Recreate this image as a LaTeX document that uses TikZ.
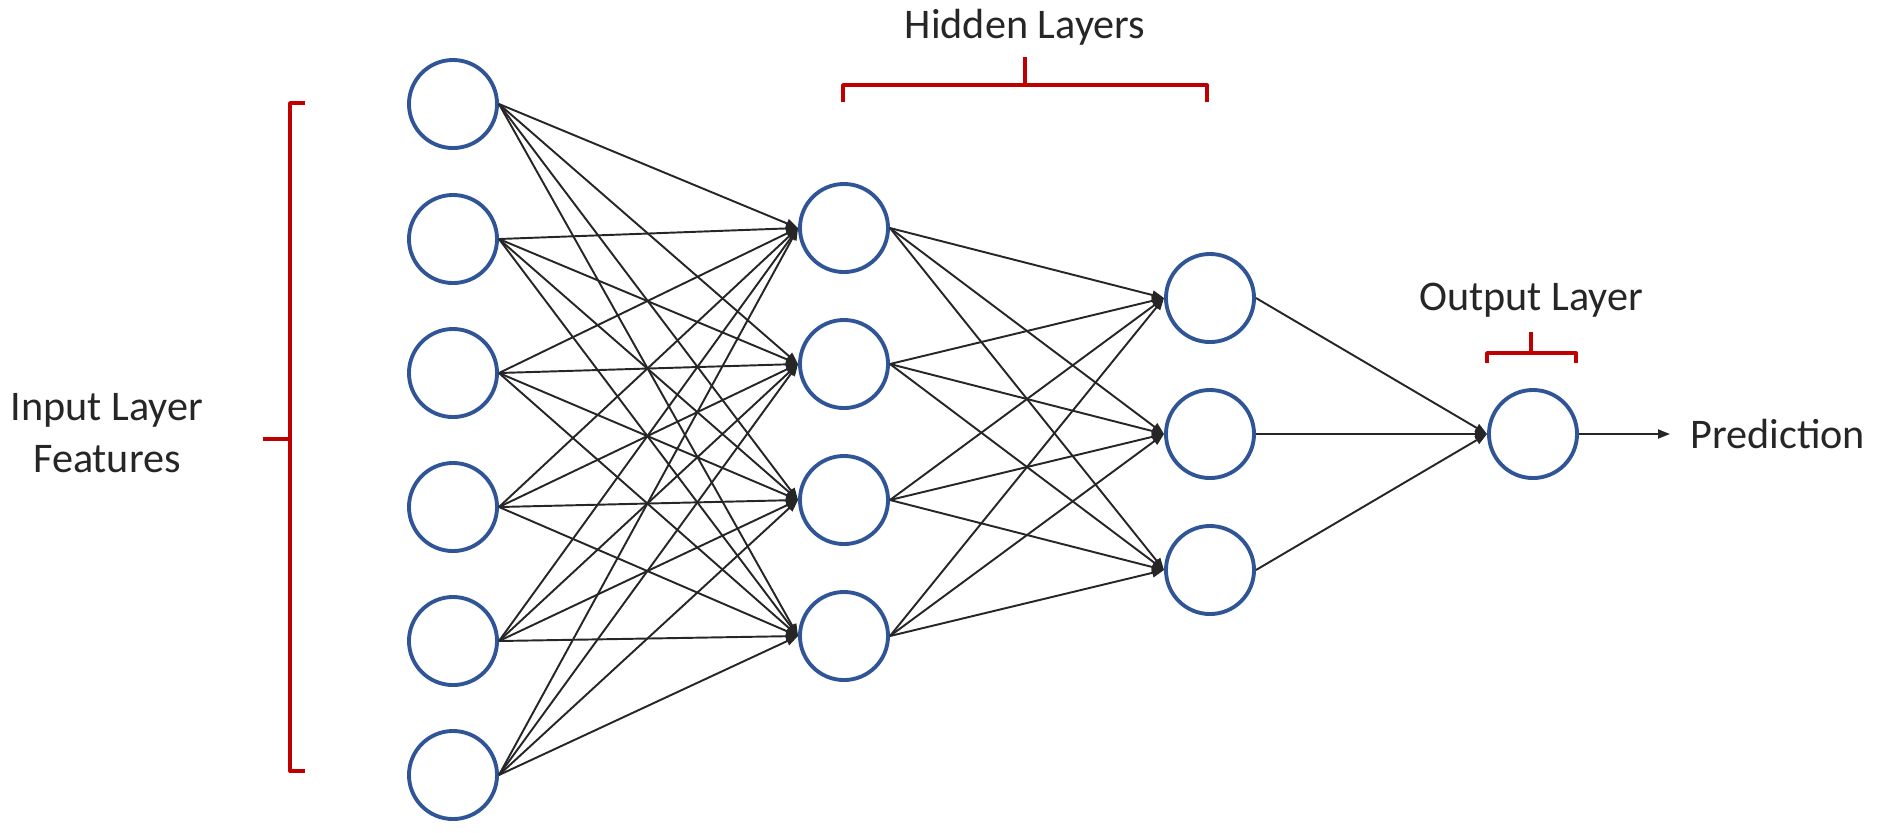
\documentclass[tikz,border=0pt]{standalone}
\usepackage{fontspec}
\setmainfont{Carlito}
\usetikzlibrary{arrows.meta}
\definecolor{nodeblue}{RGB}{47,85,151}
\definecolor{bracketred}{RGB}{192,0,0}
\begin{document}
\begin{tikzpicture}[x=0.01cm, y=-0.01cm]
                \tikzset{neuron/.style={draw=nodeblue, line width=1.1pt, shape=circle, minimum size=0.88cm, inner sep=0pt},
                         link/.style={-{Triangle[length=0.12cm, width=0.09cm]}, line width=0.55pt, black!85},
                         bracket/.style={draw=bracketred, line width=1.1pt, line join=round},
                         layertext/.style={font=\fontsize{12}{14.8}\selectfont, text=black!85}}
                \useasboundingbox (0,0) rectangle (1878,832);
                \foreach \i/\y in {1/104, 2/239, 3/373, 4/507, 5/641, 6/775}
                    \node[neuron] (in\i) at (453, \y) {};
                \foreach \i/\y in {1/228, 2/364, 3/500, 4/636}
                    \node[neuron] (hA\i) at (844, \y) {};
                \foreach \i/\y in {1/298, 2/434, 3/570}
                    \node[neuron] (hB\i) at (1210, \y) {};
                \node[neuron] (out) at (1533, 434) {};
                \node[layertext, anchor=west] (pred) at (1678, 434) {Prediction};
                \foreach \i in {1,...,6}
                    \foreach \j in {1,...,4}
                        \draw[link] (in\i.east) -- (hA\j.west);
                \foreach \i in {1,...,4}
                    \foreach \j in {1,...,3}
                        \draw[link] (hA\i.east) -- (hB\j.west);
                \foreach \j in {1,...,3}
                    \draw[link] (hB\j.east) -- (out.west);
                \draw[link, shorten >=0.08cm] (out.east) -- (pred.west);
                \node[layertext, align=center] (inputlbl) at (107, 433) {Input Layer\\Features};
                \node[layertext, anchor=base] (hiddenlbl) at (1025, 38) {Hidden Layers};
                \node[layertext, anchor=base] (outputlbl) at (1531, 310) {Output Layer};
                \draw[bracket] (305, 103) -- (290, 103) -- (290, 771) -- (305, 771)
                    (290, 439) -- (263, 439);
                \draw[bracket] (843, 102) -- (843, 85) -- (1207, 85) -- (1207, 102)
                    (1025, 85) -- (1025, 57);
                \draw[bracket] (1487, 363) -- (1487, 353) -- (1576, 353) -- (1576, 363)
                    (1531, 353) -- (1531, 332);
            \end{tikzpicture}
\end{document}
